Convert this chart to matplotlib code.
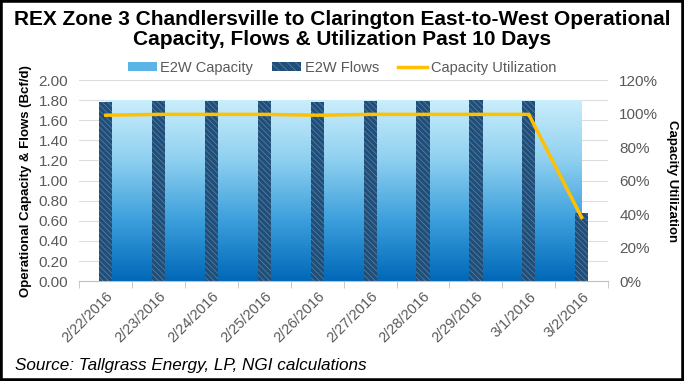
import matplotlib.pyplot as plt
import numpy as np
from matplotlib.patches import Patch, Polygon
from matplotlib.lines import Line2D
from matplotlib.colors import LinearSegmentedColormap

plt.rcParams['font.family'] = ['Liberation Sans', 'DejaVu Sans']

dates = ['2/22/2016', '2/23/2016', '2/24/2016', '2/25/2016', '2/26/2016',
         '2/27/2016', '2/28/2016', '2/29/2016', '3/1/2016', '3/2/2016']
capacity = [1.80, 1.80, 1.80, 1.80, 1.80, 1.80, 1.80, 1.80, 1.80, 1.80]
flows = [1.78, 1.79, 1.79, 1.79, 1.78, 1.79, 1.79, 1.80, 1.79, 0.68]
utilization = [99, 99.5, 99.5, 99.5, 99, 99.5, 99.5, 99.5, 99.5, 38]

x = np.arange(len(dates))
tick_col = '#595959'

fig = plt.figure(figsize=(6.84, 3.81), dpi=100)
ax = fig.add_axes([0.116, 0.262, 0.773, 0.528])
ax2 = ax.twinx()

# capacity area with vertical gradient
grad = np.linspace(0, 1, 256).reshape(-1, 1)
cmap = LinearSegmentedColormap.from_list('cap', ['#0068B8', '#3C9FDC', '#8ED0F0', '#CBEEFB'])
img = ax.imshow(grad, cmap=cmap, aspect='auto', origin='lower',
                extent=[x[0], x[-1], 0, max(capacity)], zorder=1)
verts = [(x[0], 0)] + list(zip(x, capacity)) + [(x[-1], 0)]
poly = Polygon(verts, closed=True, facecolor='none', edgecolor='none')
ax.add_patch(poly)
img.set_clip_path(poly)

plt.rcParams['hatch.color'] = '#5F83A8'
plt.rcParams['hatch.linewidth'] = 0.5
ax.bar(x, flows, width=0.25, color='#1F4E79', hatch='\\\\\\\\\\\\', edgecolor='#5F83A8',
       linewidth=0, zorder=2)

ax2.plot(x, utilization, color='#FFC000', lw=2.5, zorder=3)

ax.set_xlim(-0.5, len(dates) - 0.5)
ax.set_ylim(0, 2.0)
ax.set_yticks(np.arange(0, 2.01, 0.2))
ax.set_yticklabels([f'{v:.2f}' for v in np.arange(0, 2.01, 0.2)])
ax2.set_ylim(0, 120)
ax2.set_yticks(range(0, 121, 20))
ax2.set_yticklabels([f'{v}%' for v in range(0, 121, 20)])

ax.set_xticks(x)
ax.set_xticklabels(dates, rotation=45, ha='right', rotation_mode='anchor')
ax.set_xticks(np.arange(-0.5, len(dates)), minor=True)
ax.tick_params(axis='x', which='major', length=0, pad=6, labelsize=10.5, labelcolor=tick_col)
ax.tick_params(axis='x', which='minor', length=5, color='#BFBFBF')
ax.tick_params(axis='y', length=0, labelsize=11, labelcolor=tick_col, pad=8)
ax2.tick_params(axis='y', length=0, labelsize=11, labelcolor=tick_col, pad=8)

ax.grid(axis='y', color='#DDDDDD', lw=0.8, zorder=0)
ax.set_axisbelow(True)
for a in (ax, ax2):
    for s in a.spines.values():
        s.set_visible(False)
ax.spines['bottom'].set_visible(True)
ax.spines['bottom'].set_color('#BFBFBF')

ax.set_ylabel('Operational Capacity & Flows (Bcf/d)', fontsize=9.5, fontweight='bold', labelpad=5)
ax2.set_ylabel('Capacity Utilization', fontsize=9.5, fontweight='bold', rotation=270, labelpad=14)

handles = [Patch(facecolor='#5AB4E6', edgecolor='none'),
           Patch(facecolor='#1F4E79', hatch='\\\\\\\\', edgecolor='#5F83A8', lw=0),
           Line2D([0], [0], color='#FFC000', lw=2.5)]
fig.legend(handles, ['E2W Capacity', 'E2W Flows', 'Capacity Utilization'],
           loc='center', bbox_to_anchor=(0.5, 0.822), ncol=3, frameon=False,
           fontsize=10.5, labelcolor=tick_col, handlelength=2.0, handleheight=0.6,
           columnspacing=1.3, handletextpad=0.25)

fig.text(0.5, 0.975, 'REX Zone 3 Chandlersville to Clarington East-to-West Operational\n'
         'Capacity, Flows & Utilization Past 10 Days', ha='center', va='top',
         fontsize=15, fontweight='bold', linespacing=1.1)
fig.text(0.022, 0.02, 'Source: Tallgrass Energy, LP, NGI calculations', fontsize=12.3,
         style='italic', ha='left', va='bottom')

border = plt.Rectangle((0, 0), 1, 1, transform=fig.transFigure, fill=False,
                       edgecolor='black', lw=4)
fig.patches.append(border)

fig.savefig('out.png', dpi=100)
